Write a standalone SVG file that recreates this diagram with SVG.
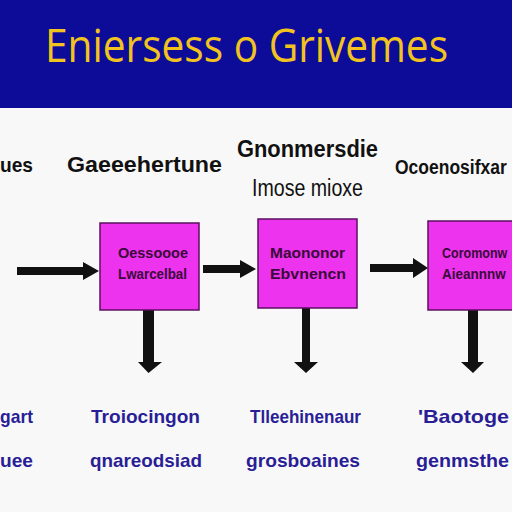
<svg xmlns="http://www.w3.org/2000/svg" width="512" height="512" viewBox="0 0 512 512">
<style>
.lbl{font-family:"Liberation Sans",Arial,sans-serif;font-weight:bold;fill:#111;}
.bx{fill:#ee33ee;stroke:#5a1060;stroke-width:1.5;}
.bt{font-family:"Liberation Sans",Arial,sans-serif;font-weight:bold;font-size:15px;fill:#3a0a3a;}
.bl{font-family:"Liberation Sans",Arial,sans-serif;font-weight:bold;font-size:19px;fill:#2a1e96;}
.ar{fill:#111;}
</style>
<rect x="0" y="0" width="512" height="512" fill="#f8f8f8"/>
<rect x="0" y="0" width="512" height="108" fill="#0c0c98"/>
<text x="45" y="62" font-family="'Open Sans','Liberation Sans',sans-serif" font-size="46" fill="#f2c31e" textLength="403" lengthAdjust="spacingAndGlyphs">Eniersess o Grivemes</text>

<g id="top-labels">
<text class="lbl" x="0" y="172" font-size="21" textLength="33" lengthAdjust="spacingAndGlyphs">ues</text>
<text class="lbl" x="67" y="172" font-size="22" textLength="155" lengthAdjust="spacingAndGlyphs">Gaeeehertune</text>
<text class="lbl" x="237" y="157" font-size="23" textLength="141" lengthAdjust="spacingAndGlyphs">Gnonmersdie</text>
<text x="252" y="196" font-family="'Liberation Sans',Arial,sans-serif" font-size="23" fill="#111" textLength="111" lengthAdjust="spacingAndGlyphs">Imose mioxe</text>
<text class="lbl" transform="translate(395,174) scale(1,1.2)" x="0" y="0" font-size="17.5">Ocoenosifxar</text>
</g>

<g id="connectors">
<polygon class="ar" points="17,267 83,267 83,262 99,271 83,280 83,275 17,275"/>
<polygon class="ar" points="203,265 240,265 240,260 256,269 240,278 240,273 203,273"/>
<polygon class="ar" points="370,264 413,264 413,258 428,268 413,278 413,272 370,272"/>
<polygon class="ar" points="143,310 154,310 154,362 162,362 148.5,373 138,362 143,362"/>
<polygon class="ar" points="302,308 310,308 310,362 318,362 306,373 294,362 302,362"/>
<polygon class="ar" points="468,310 478,310 478,362 484,362 473,373 461,362 468,362"/>
</g>

<g id="box1">
<rect class="bx" x="100" y="223" width="99" height="87"/>
<text class="bt" x="118" y="258" textLength="70" lengthAdjust="spacingAndGlyphs">Oessoooe</text>
<text class="bt" x="118" y="279" textLength="69" lengthAdjust="spacingAndGlyphs">Lwarcelbal</text>
</g>
<g id="box2">
<rect class="bx" x="258" y="219" width="99" height="89"/>
<text class="bt" x="270" y="258" textLength="75" lengthAdjust="spacingAndGlyphs">Maononor</text>
<text class="bt" x="270" y="279" textLength="76" lengthAdjust="spacingAndGlyphs">Ebvnencn</text>
</g>
<g id="box3">
<rect class="bx" x="428" y="221" width="90" height="89"/>
<text class="bt" transform="translate(442,258) scale(1,1.15)" x="0" y="0" style="font-size:12.5px">Coromonw</text>
<text class="bt" transform="translate(442,279) scale(1,1.15)" x="0" y="0" style="font-size:13.5px">Aieannnw</text>
</g>

<g id="bottom-labels">
<text class="bl" x="0" y="423" textLength="33" lengthAdjust="spacingAndGlyphs">gart</text>
<text class="bl" x="91" y="423" textLength="109" lengthAdjust="spacingAndGlyphs">Troiocingon</text>
<text class="bl" x="250" y="423" textLength="111" lengthAdjust="spacingAndGlyphs">Tlleehinenaur</text>
<text class="bl" x="418" y="423" textLength="91" lengthAdjust="spacingAndGlyphs">'Baotoge</text>
<text class="bl" x="0" y="467" textLength="33" lengthAdjust="spacingAndGlyphs">uee</text>
<text class="bl" x="90" y="467" textLength="112" lengthAdjust="spacingAndGlyphs">qnareodsiad</text>
<text class="bl" x="246" y="467" textLength="114" lengthAdjust="spacingAndGlyphs">grosboaines</text>
<text class="bl" x="416" y="467" textLength="93" lengthAdjust="spacingAndGlyphs">genmsthe</text>
</g>
</svg>
